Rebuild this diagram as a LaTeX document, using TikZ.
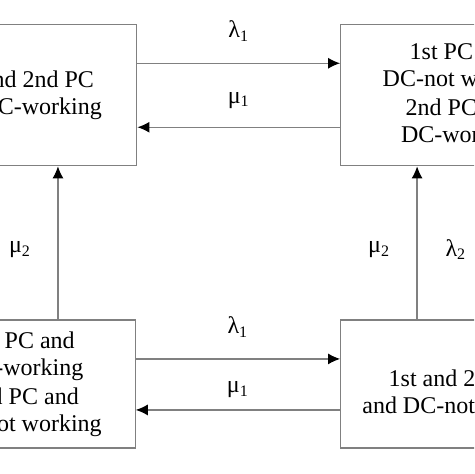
\documentclass[tikz,border=0pt]{standalone}
\usepackage{fontspec}
\setmainfont{Liberation Serif}
\usetikzlibrary{arrows.meta}
\tikzset{
  state/.style={draw=gray, line width=0.6pt, minimum width=116pt, align=center, inner sep=0pt,
    font=\fontsize{12pt}{13.5pt}\selectfont},
  arr/.style={draw=gray, line width=0.6pt, -{Latex[length=6pt,width=5.5pt,color=black]}},
  rate/.style={font=\fontsize{12pt}{14pt}\selectfont, inner sep=0pt}
}
\begin{document}
\begin{tikzpicture}[x=23.7pt, y=23.7pt]
\useasboundingbox (0,0) rectangle (10,10);
\clip (0,0) rectangle (10,10);
% states
\node[state, minimum height=70.5pt] (tl) at (0.44,7.99) {1st and 2nd PC\\and DC-working};
\node[state, minimum width=121pt, minimum height=70.5pt] (tr) at (9.74,7.99) {1st PC and\\DC-not working\\[1pt]2nd PC and\\DC-working};
\node[state, minimum width=112.4pt, minimum height=64pt] (bl) at (0.48,1.90) {1st PC and\\DC-working\\[1pt]2nd PC and\\DC-not working};
\node[state, minimum width=121pt, minimum height=64pt] (br) at (9.74,1.90) {};
\node[rate, align=center, font=\fontsize{12pt}{13.5pt}\selectfont] (brtext) at ([yshift=-5pt]br.center) {1st and 2nd PC\\and DC-not working};
% horizontal transitions
\draw[arr] ([yshift=16pt]tl.east) -- node[rate, yshift=16pt] (l1t) {λ\textsubscript{1}} ([yshift=16pt]tr.west);
\draw[arr] ([yshift=-16pt]tr.west) -- node[rate, yshift=13.5pt] (m1t) {μ\textsubscript{1}} ([yshift=-16pt]tl.east);
\draw[arr] ([yshift=12.5pt]bl.east) -- node[rate, yshift=16pt] (l1b) {λ\textsubscript{1}} ([yshift=12.5pt]br.west);
\draw[arr] ([yshift=-13pt]br.west) -- node[rate, yshift=10pt] (m1b) {μ\textsubscript{1}} ([yshift=-13pt]bl.east);
% vertical transitions
\coordinate (lb) at ([xshift=17.6pt]bl.north);
\coordinate (rb) at ([xshift=-22.3pt]br.north);
\draw[arr] (lb) -- node[rate, xshift=-19pt, yshift=-3.4pt] (m2l) {μ\textsubscript{2}} (lb |- tl.south);
\draw[arr] (rb) -- node[rate, xshift=-19pt, yshift=-3.4pt] (m2r) {μ\textsubscript{2}}
  node[rate, xshift=19.4pt, yshift=-3.4pt] (l2r) {λ\textsubscript{2}} (rb |- tr.south);
\end{tikzpicture}
\end{document}
